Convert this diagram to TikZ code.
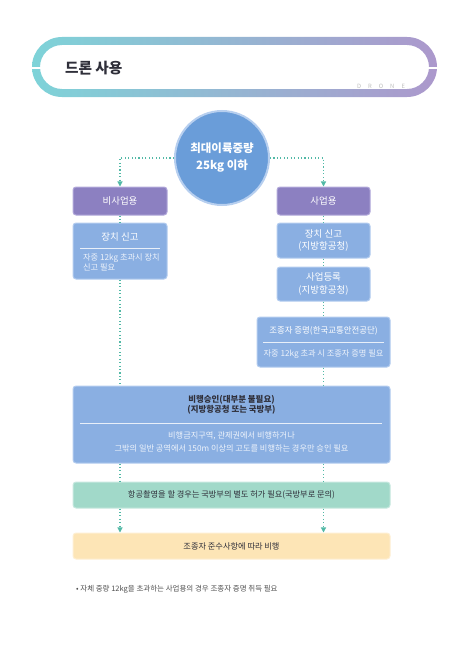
\documentclass[tikz,border=0pt]{standalone}
\usepackage{fontspec}
\setmainfont{Noto Sans CJK KR}
\usetikzlibrary{arrows.meta}

\newlength\px
\setlength\px{0.3mm}

\definecolor{hdteal}{HTML}{7ED3D8}
\definecolor{hdpurple}{HTML}{AC98CC}
\definecolor{circblue}{HTML}{6A9DD9}
\definecolor{circring}{HTML}{B7CFEF}
\definecolor{boxpurple}{HTML}{8C80C1}
\definecolor{boxpurpleedge}{HTML}{B2A9DA}
\definecolor{boxblue}{HTML}{8AAFE2}
\definecolor{boxblueedge}{HTML}{B3CCEF}
\definecolor{boxgreen}{HTML}{A1D9C9}
\definecolor{boxyellow}{HTML}{FDE5B6}
\definecolor{flowteal}{HTML}{52B9A6}
\definecolor{darktext}{HTML}{2F2F3A}
\definecolor{bodytext}{HTML}{EEF3FB}
\definecolor{dronegray}{HTML}{BDBDBD}
\definecolor{footgray}{HTML}{505050}

\newcommand\fnttitle{\fontsize{12.5}{14}\selectfont\bfseries}
\newcommand\fntcirc{\fontsize{9.8}{14.5}\selectfont\bfseries}
\newcommand\fnthead{\fontsize{8.1}{11}\selectfont}
\newcommand\fntsmallhead{\fontsize{7.2}{8.5}\selectfont}
\newcommand\fntnote{\fontsize{7}{8.5}\selectfont}
\newcommand\fntwide{\fontsize{7}{11}\selectfont}
\newcommand\fntfoot{\fontsize{6.4}{7}\selectfont}
\newcommand\fntdrone{\fontsize{5}{6}\selectfont}

\tikzset{
  flow/.style={draw=flowteal, line width=1.1\px, dotted},
  flowarrow/.style={flow, -{Triangle[width=4.3pt,length=4.3pt]}},
  sep/.style={draw=white!80!boxblue, line width=0.8\px},
  usebox/.style={rectangle, rounded corners=3\px, line width=1\px, inner sep=0pt, align=center},
  purplebox/.style={usebox, fill=boxpurple, draw=boxpurpleedge, text=white, font=\fnthead},
  bluebox/.style={usebox, fill=boxblue, draw=boxblueedge, text=white, font=\fnthead},
  greenbox/.style={usebox, fill=boxgreen, draw=boxgreen!60!white, text=darktext, font=\fntnote},
  yellowbox/.style={usebox, fill=boxyellow, draw=boxyellow!60!white, text=darktext, font=\fntnote},
  circ/.style={circle, minimum size=94\px, inner sep=0pt, fill=circblue, draw=circring, line width=2\px, text=white, font=\fntcirc, align=center}
}

\begin{document}
\begin{tikzpicture}[x=\px, y=-\px]
  \useasboundingbox (0,0) rectangle (474,647);
  % heading bar
  \shade[left color=hdteal, right color=hdpurple, even odd rule]
    [rounded corners=30\px] (32,37) rectangle (437,97)
    [rounded corners=22\px] (40,45) rectangle (429,89);
  \fill[white] (28,67) rectangle (46,69.5);
  \fill[white] (423,67) rectangle (441,69.5);
  \node[anchor=west, font=\fnttitle, text=darktext] (title) at (61,68) {드론 사용};
  \node[font=\fntdrone, text=dronegray] (drone) at (381,86) {D\hspace{6pt}R\hspace{6pt}O\hspace{6pt}N\hspace{6pt}E};

  % weight limit
  \node[circ] (mtow) at (222,158) {최대이륙중량\\25kg 이하};

  % non-business column
  \node[purplebox, minimum width=94\px, minimum height=28\px] (nonbiz) at (120,201) {비사업용};
  \node[bluebox, minimum width=94\px, minimum height=56\px] (nonbizreg) at (120,251) {};
  \node[font=\fnthead, text=white] (nonbizregtitle) at (120,237) {장치 신고};
  \draw[sep] (80,248) -- (160,248);
  \node[anchor=west, align=left, font=\fntnote, text=bodytext] (nonbizregnote) at (79,262) {자중 12kg 초과시 장치\\신고 필요};

  % business column
  \node[purplebox, minimum width=93\px, minimum height=28\px] (biz) at (323.5,201) {사업용};
  \node[bluebox, minimum width=93\px, minimum height=35\px] (bizreg) at (323.5,240.5) {장치 신고\\(지방항공청)};
  \node[bluebox, minimum width=93\px, minimum height=34\px] (bizlic) at (323.5,284) {사업등록\\(지방항공청)};
  \node[bluebox, minimum width=133\px, minimum height=50\px] (pilot) at (323.5,342) {};
  \node[font=\fntsmallhead, text=white] (pilottitle) at (323.5,331) {조종자 증명(한국교통안전공단)};
  \draw[sep] (263,342) -- (384,342);
  \node[font=\fntnote, text=bodytext] (pilotnote) at (323.5,354) {자중 12kg 초과 시 조종자 증명 필요};

  % common steps
  \node[bluebox, minimum width=317\px, minimum height=77\px] (approval) at (231.5,424.5) {};
  \node[font=\fntsmallhead\bfseries, text=darktext, align=center] (approvaltitle) at (231.5,405) {비행승인(대부분 불필요)\\(지방항공청 또는 국방부)};
  \draw[sep] (80,423) -- (382,423);
  \node[font=\fntwide, text=bodytext, align=center] (approvalnote) at (231.5,441.5) {비행금지구역, 관제권에서 비행하거나\\그밖의 일반 공역에서 150m 이상의 고도를 비행하는 경우만 승인 필요};
  \node[greenbox, minimum width=317\px, minimum height=26\px] (aerial) at (231.5,495) {항공촬영을 할 경우는 국방부의 별도 허가 필요(국방부로 문의)};
  \node[yellowbox, minimum width=317\px, minimum height=26\px] (final) at (231.5,546) {조종자 준수사항에 따라 비행};

  \node[anchor=west, font=\fntfoot, text=footgray] (footnote) at (72,589) {• 자체 중량 12kg을 초과하는 사업용의 경우 조종자 증명 취득 필요};

  % connectors
  \draw[flowarrow] (mtow.west) -| (nonbiz.north);
  \draw[flowarrow] (mtow.east) -| (biz.north);
  \draw[flow] (nonbiz) -- (nonbizreg);
  \draw[flow] (nonbizreg) -- (nonbizreg |- approval.north);
  \foreach \a/\b in {biz/bizreg, bizreg/bizlic, bizlic/pilot}
    \draw[flow] (\a) -- (\b);
  \draw[flow] (pilot) -- (pilot |- approval.north);
  \foreach \col in {nonbiz, biz} {
    \draw[flow] (approval.south -| \col) -- (aerial.north -| \col);
    \draw[flowarrow] (aerial.south -| \col) -- (final.north -| \col);
  }
\end{tikzpicture}
\end{document}
